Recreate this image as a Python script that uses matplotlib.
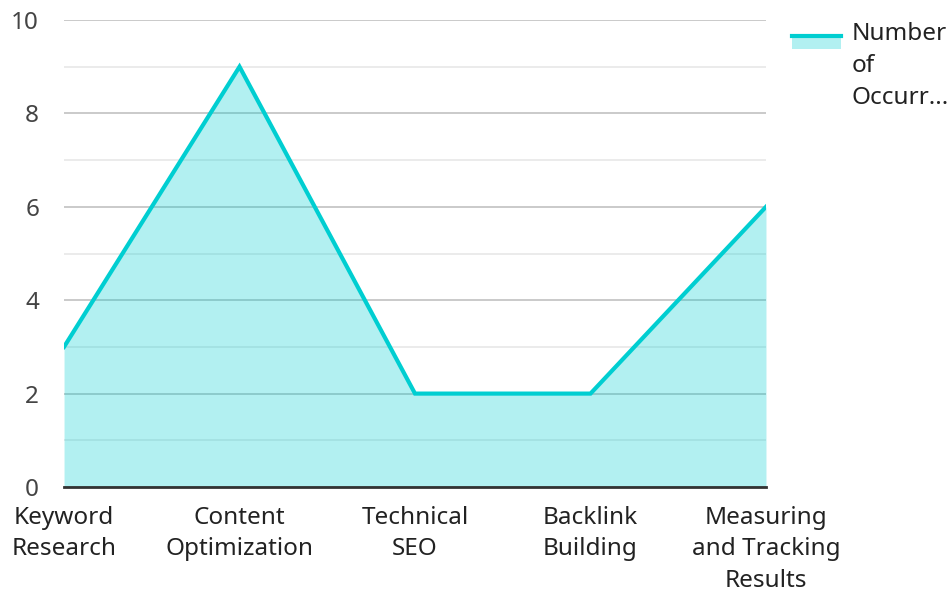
import matplotlib
matplotlib.use("Agg")
import matplotlib.pyplot as plt
from matplotlib.patches import Rectangle
from matplotlib.lines import Line2D
from matplotlib.legend_handler import HandlerBase

categories = ["Keyword\nResearch", "Content\nOptimization", "Technical\nSEO",
              "Backlink\nBuilding", "Measuring\nand Tracking\nResults"]
values = [3, 9, 2, 2, 6]
series_label = "Number\nof\nOccurr..."

LINE = "#00CED1"
FS = 17.5
LS = 1.43

plt.rcParams['font.family'] = ['Noto Sans', 'DejaVu Sans']


class AreaHandler(HandlerBase):
    # draws the area swatch next to the first line of the label
    def __init__(self, shift):
        super().__init__()
        self.shift = shift

    def create_artists(self, legend, orig, xd, yd, width, height, fontsize, trans):
        y0 = -yd + self.shift
        rect = Rectangle((-xd, y0), width, height * 0.75, facecolor=LINE,
                         alpha=0.3, edgecolor="none", transform=trans)
        ln = Line2D([-xd, -xd + width], [y0 + height * 0.75] * 2, color=LINE,
                    lw=3, transform=trans)
        return [rect, ln]


fig = plt.figure(figsize=(9.5, 5.89), dpi=100)
ax = fig.add_axes([0.0674, 0.1732, 0.7389, 0.7928])

x = list(range(len(values)))
fill = ax.fill_between(x, values, 0, color=LINE, alpha=0.3, lw=0, zorder=2)
ax.plot(x, values, color=LINE, lw=3, zorder=3, solid_joinstyle="miter")

ax.set_xlim(0, len(values) - 1)
ax.set_ylim(0, 10)
ax.set_yticks([0, 2, 4, 6, 8, 10])
ax.set_yticks([1, 3, 5, 7, 9], minor=True)
ax.set_xticks(x)
ax.set_xticklabels(categories, linespacing=LS)

ax.grid(axis="y", which="major", color="#c6c6c6", lw=1.3, zorder=1)
ax.grid(axis="y", which="minor", color="#e9e9e9", lw=1.3, zorder=1)
ax.set_axisbelow(True)

for s in ["top", "right", "left"]:
    ax.spines[s].set_visible(False)
ax.spines["bottom"].set_color("#333333")
ax.spines["bottom"].set_linewidth(2)
ax.spines["bottom"].set_zorder(4)

ax.tick_params(axis="y", which="both", length=0, pad=18, labelsize=FS, labelcolor="#444444")
ax.tick_params(axis="x", length=0, pad=13.5, labelsize=FS, labelcolor="#222222")

leg = fig.legend([fill], [series_label], handler_map={type(fill): AreaHandler(19)},
                 loc="upper left", bbox_to_anchor=(0.8337, 0.962), frameon=False,
                 fontsize=FS, handlelength=2.0, handletextpad=0.45,
                 borderpad=0, borderaxespad=0, labelcolor="#222222")
for t in leg.get_texts():
    t.set_linespacing(LS)

fig.savefig("out.png", dpi=100)
